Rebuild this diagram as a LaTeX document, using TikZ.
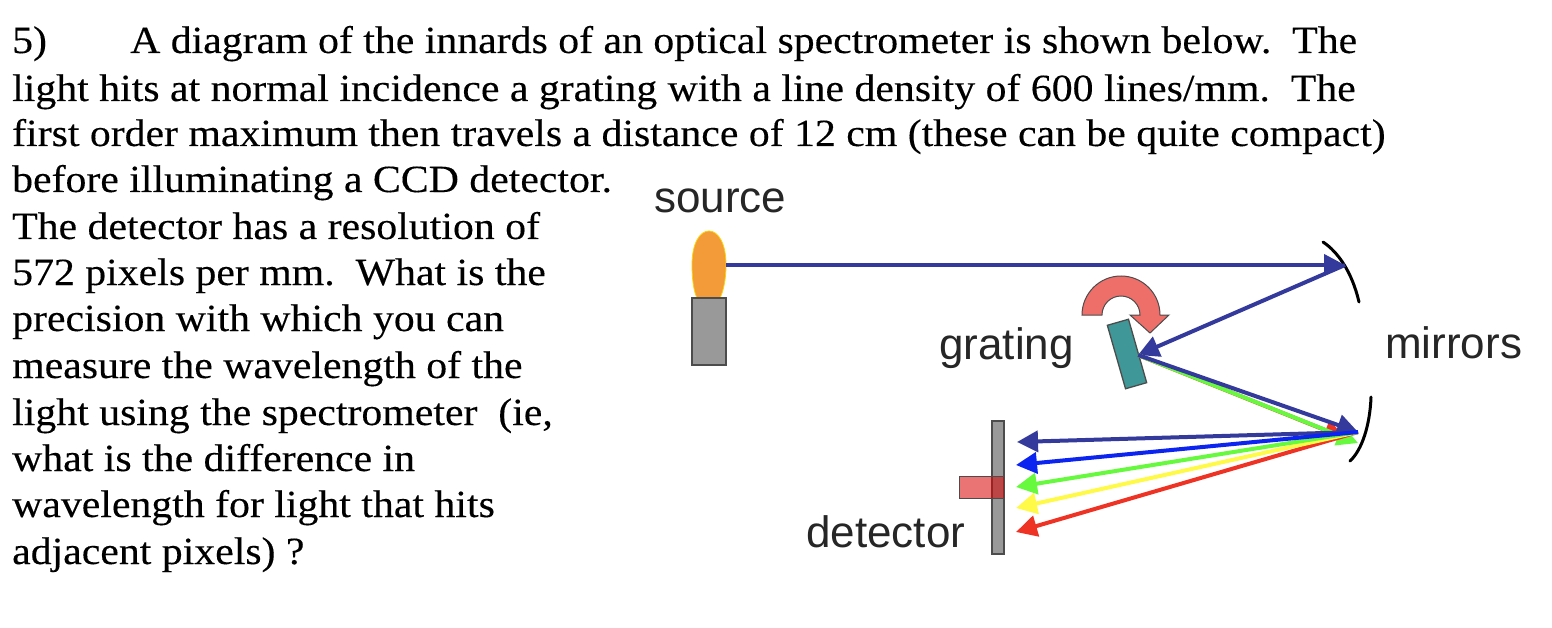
\documentclass[tikz,border=0pt]{standalone}
\usepackage{fontspec}
\setmainfont[FakeStretch=1.085,FakeBold=0.25]{Liberation Serif}
\newfontfamily\labelfont{Liberation Sans}
\usetikzlibrary{arrows.meta,shapes.geometric}
\definecolor{raynavy}{HTML}{333A9B}
\definecolor{rayblue}{HTML}{0B24F0}
\definecolor{raygreen}{HTML}{66F93E}
\definecolor{rayyellow}{HTML}{FFF947}
\definecolor{rayred}{HTML}{EE3224}
\definecolor{flamefill}{HTML}{F29B38}
\definecolor{basegray}{HTML}{999999}
\definecolor{tealfill}{HTML}{3F9797}
\definecolor{salmon}{HTML}{EE6E6A}
\tikzset{
 body/.style={anchor=base west,inner sep=0pt,font=\fontsize{38.5}{40}\selectfont},
 lab/.style={anchor=base west,inner sep=0pt,font=\labelfont\fontsize{44}{46}\selectfont,text=black!85},
 ray/.style={line width=4pt,-{Triangle[length=21pt,width=21pt]}},
 mirror/.style={line width=3pt,black,line cap=round},
 part/.style={draw=black!70,line width=1.3pt,inner sep=0pt,minimum width=#1}
}
\begin{document}
\begin{tikzpicture}[x=1pt,y=-1pt]
\useasboundingbox (0,0) rectangle (1552,628);
\node[body] (t1a) at (12,53) {5)};
\node[body] (t1) at (130,53) {A diagram of the innards of an optical spectrometer is shown below.\ \ The};
\node[body] (t2) at (12,101) {light hits at normal incidence a grating with a line density of 600 lines/mm.\ \ The};
\node[body] (t3) at (12,146) {first order maximum then travels a distance of 12 cm (these can be quite compact)};
\node[body] (t4) at (12,192) {before illuminating a CCD detector.};
\node[body] (t5) at (12,239) {The detector has a resolution of};
\node[body] (t6) at (12,285) {572 pixels per mm.\ \ What is the};
\node[body] (t7) at (12,331) {precision with which you can};
\node[body] (t8) at (12,378) {measure the wavelength of the};
\node[body] (t9) at (12,425) {light using the spectrometer\ \ (ie,};
\node[body] (t10) at (12,471) {what is the difference in};
\node[body] (t11) at (12,517) {wavelength for light that hits};
\node[body] (t12) at (12,564) {adjacent pixels) ?};
\node[lab] (lsource) at (654,213) {source};
\node[lab] (lgrating) at (939,359) {grating};
\node[lab] (lmirrors) at (1385,358) {mirrors};
\node[lab] (ldetector) at (806,547) {detector};
% source
\draw[fill=flamefill,draw=yellow!70!orange,line width=0.8pt] (692,265) .. controls (692,243) and (700,231) .. (709,231) .. controls (718,231) and (726,243) .. (726,265) .. controls (726,280) and (723,292) .. (720,298) -- (697,298) .. controls (694,292) and (692,280) .. (692,265) -- cycle;
\coordinate (flameE) at (726,265);
\node[part=34pt,fill=basegray,minimum height=67pt] (base) at (709,331.5) {};
% mirrors
\coordinate (m1a) at (1323,242);
\coordinate (m1) at (1345,265);
\coordinate (m1b) at (1359,302);
\draw[mirror] (m1a) .. controls (1338,252) and (1352,272) .. (m1b);
\coordinate (m2a) at (1371,397);
\coordinate (m2) at (1358,432);
\coordinate (m2b) at (1350,461);
\draw[mirror] (m2a) .. controls (1370,425) and (1362,450) .. (m2b);
% rotation arrow
\draw[draw=black!70,line width=1pt,fill=salmon]
 (1082,315) arc[start angle=180,end angle=0,x radius=39pt,y radius=39pt] -- (1169,315) -- (1150,333) -- (1130,315) -- (1140,315)
 arc[start angle=0,end angle=180,x radius=19pt,y radius=19pt] -- cycle;
% grating
\node[part=22pt,fill=tealfill,minimum height=66pt,rotate=16] (grat) at (1127,354) {};
\coordinate (gp) at (1138,355);
% detector
\node[part=12pt,fill=basegray,minimum height=133pt] (det) at (998,487.5) {};
\node[draw=black!70,line width=1pt,fill=red!85!black,fill opacity=0.55,minimum width=45pt,minimum height=22pt,inner sep=0pt] (win) at (981.5,487) {};
% detector targets
\coordinate (dn) at (1017,442);
\coordinate (db) at (1016,465);
\coordinate (dg) at (1016,487);
\coordinate (dy) at (1016,508);
\coordinate (dr) at (1016,532);
\coordinate (mr) at (1345,438);
\coordinate (mg) at (1358,443);
% rays
\draw[ray,raynavy] (flameE) -- (m1);
\draw[ray,raynavy] (m1) -- (gp);
\draw[ray,rayred] (gp) -- (mr);
\draw[ray,raygreen] (gp) -- (mg);
\draw[ray,raynavy] (gp) -- (m2);
\draw[ray,rayred] (m2) -- (dr);
\draw[ray,rayyellow] (m2) -- (dy);
\draw[ray,raygreen] (m2) -- (dg);
\draw[ray,raynavy] (m2) -- (dn);
\draw[ray,rayblue] (m2) -- (db);
\end{tikzpicture}
\end{document}
